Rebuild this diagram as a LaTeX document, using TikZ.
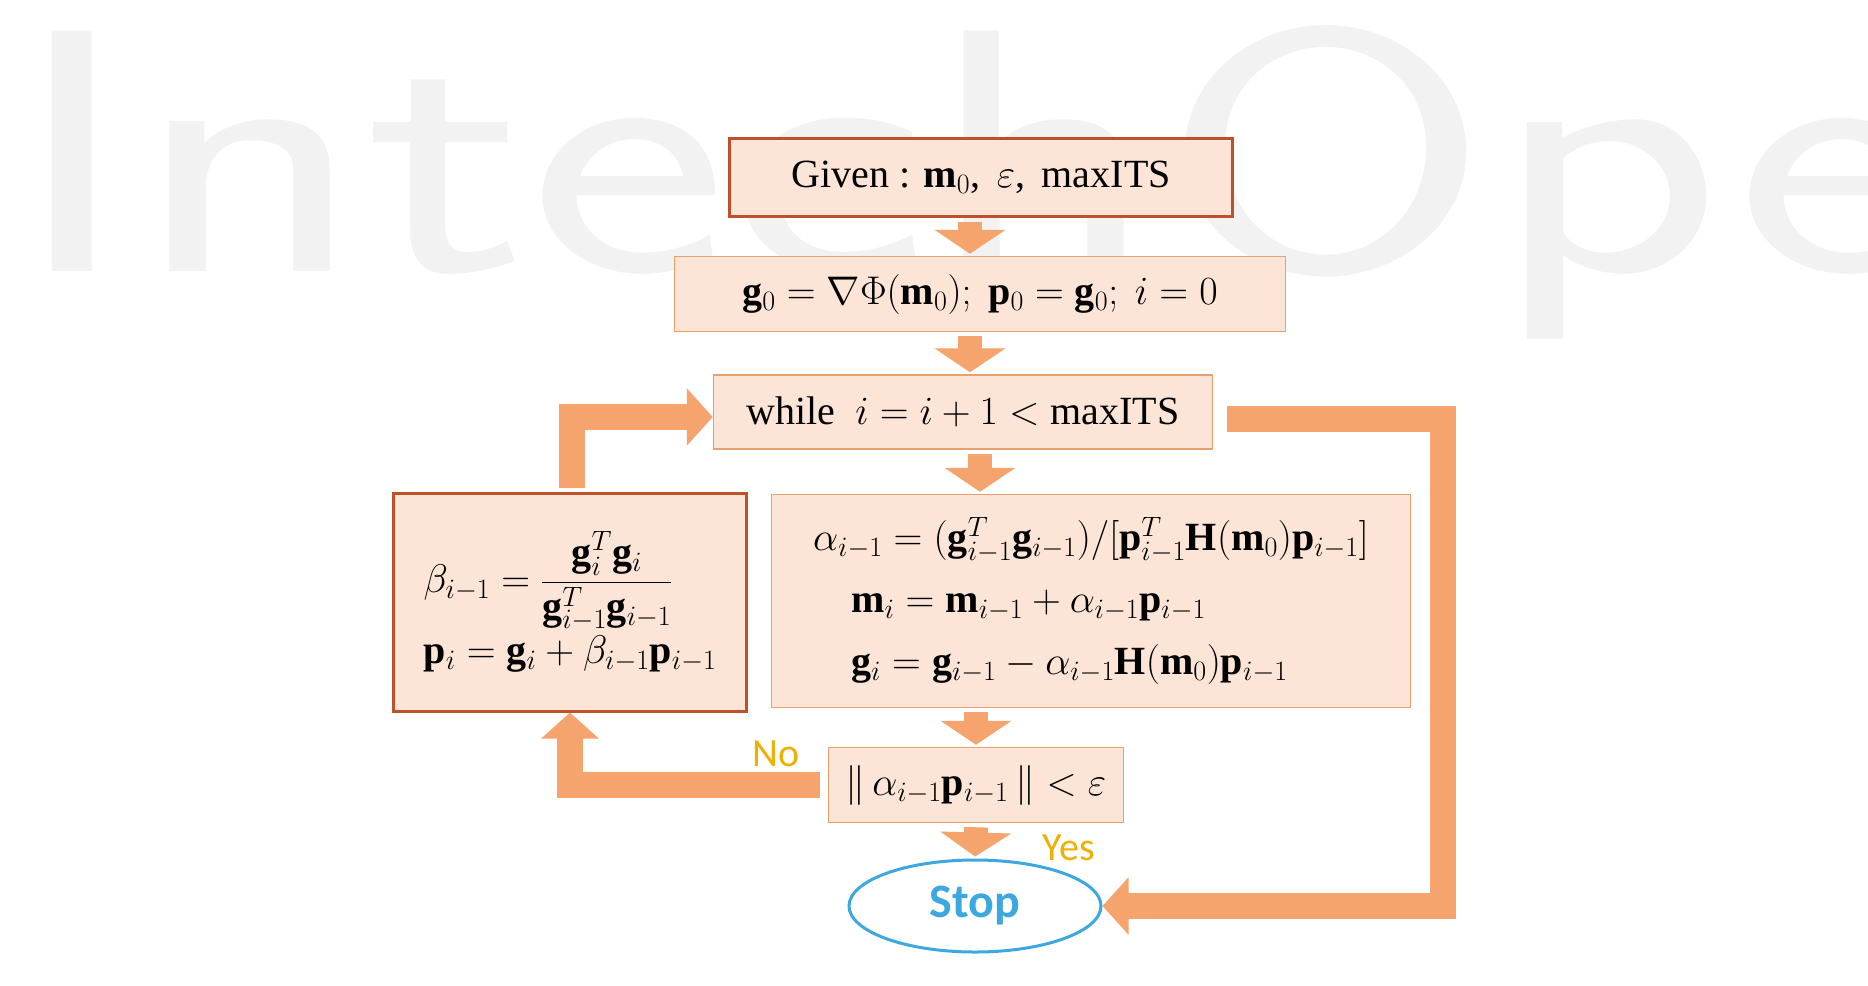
\RequirePackage{fix-cm}
\documentclass[tikz,border=0pt]{standalone}
\usepackage{amsmath}
\usepackage{graphicx}
\usepackage{fontspec}
\setmainfont{Liberation Serif}
\newfontfamily\sansf{Carlito}
\DeclareMathSizes{40}{40}{28}{22}
\usetikzlibrary{arrows.meta,shapes.geometric}
\definecolor{boxfill}{HTML}{FCE4D6}
\definecolor{darkb}{HTML}{C0502A}
\definecolor{lightb}{HTML}{E8A070}
\definecolor{arr}{HTML}{F4A46C}
\definecolor{lab}{HTML}{F0B000}
\definecolor{stopb}{HTML}{3DA8DF}
\begin{document}
\begin{tikzpicture}[x=1pt,y=-1pt,
  boxd/.style={draw=darkb,line width=3pt,fill=boxfill,inner sep=0pt},
  boxl/.style={draw=lightb,line width=1.5pt,fill=boxfill,inner sep=0pt},
  fsz/.style={font=\fontsize{40}{62}\selectfont},
  darr/.style={draw=arr,line width=24pt,-{Triangle[length=24pt,width=70pt]},shorten <=4pt,shorten >=2pt},
  larr/.style={draw=arr,line width=26pt,-{Triangle[length=26pt,width=56pt]}},
  lbl/.style={text=lab,font=\sansf\fontsize{40}{44}\selectfont}]
\useasboundingbox (0,0) rectangle (1868,985);
\fill[white] (0,0) rectangle (1868,985);
\node[text=black!5,font=\fontfamily{lmss}\fontsize{330}{330}\selectfont,anchor=north west,inner sep=0pt] (wm) at (10,25) {\scalebox{1.45}[1.05]{IntechOpen}};
\node[boxd,fsz,minimum width=503pt,minimum height=78pt] (given) at (981,177) {Given : $\mathbf{m}_0$, \,$\varepsilon$, \,maxITS};
\node[boxl,fsz,minimum width=611pt,minimum height=75pt] (init) at (980,294) {$\mathbf{g}_0=\nabla\Phi(\mathbf{m}_0);\ \mathbf{p}_0=\mathbf{g}_0;\ i=0$};
\node[boxl,fsz,minimum width=499pt,minimum height=74pt] (while) at (963,412) {while\ \ $i=i+1<\mathrm{maxITS}$};
\node[boxd,fsz,minimum width=353pt,minimum height=218pt,align=left] (beta) at (570,602) {$\beta_{i-1}=\dfrac{\mathbf{g}_i^T\mathbf{g}_i}{\mathbf{g}_{i-1}^T\mathbf{g}_{i-1}}$\\[4pt]$\mathbf{p}_i=\mathbf{g}_i+\beta_{i-1}\mathbf{p}_{i-1}$};
\node[boxl,fsz,minimum width=639pt,minimum height=213pt,align=left] (alpha) at (1091,601) {$\alpha_{i-1}=(\mathbf{g}_{i-1}^T\mathbf{g}_{i-1})/[\mathbf{p}_{i-1}^T\mathbf{H}(\mathbf{m}_0)\mathbf{p}_{i-1}]$\\
\hspace*{38pt}$\mathbf{m}_i=\mathbf{m}_{i-1}+\alpha_{i-1}\mathbf{p}_{i-1}$\\
\hspace*{38pt}$\mathbf{g}_i=\mathbf{g}_{i-1}-\alpha_{i-1}\mathbf{H}(\mathbf{m}_0)\mathbf{p}_{i-1}$};
\node[boxl,fsz,minimum width=295pt,minimum height=75pt] (norm) at (976,785) {$\|\,\alpha_{i-1}\mathbf{p}_{i-1}\,\|<\varepsilon$};
\node[ellipse,draw=stopb,line width=3pt,fill=white,minimum width=252pt,minimum height=92pt,inner sep=0pt,text=stopb,font=\sansf\bfseries\fontsize{48}{52}\selectfont] (stop) at (975,906) {Stop};
\draw[darr] (given.south -| 970,0) -- (init.north -| 970,0);
\draw[darr] (init.south -| 970,0) -- (while.north -| 970,0);
\draw[darr] (while.south -| 980,0) -- (alpha.north -| 980,0);
\draw[darr] (alpha.south -| 976,0) -- (norm.north -| 976,0);
\draw[darr] (norm.south) -- (stop.north);
\coordinate (r1) at (1443,419);
\coordinate (r2) at (1443,906);
\draw[larr] (while.east |- r1) ++(14,0) -- (r1) -- (r2) -- (stop.east);
\coordinate (l1) at (572,417);
\draw[larr] (beta.north -| l1) ++(0,-4) -- (l1) -- (while.west |- l1);
\coordinate (b1) at (570,785);
\draw[larr] (norm.west) ++(-8,0) -- (b1) -- (beta.south -| b1);
\node[lbl] (no) at (776,754) {No};
\node[lbl] (yes) at (1069,848) {Yes};
\end{tikzpicture}
\end{document}
